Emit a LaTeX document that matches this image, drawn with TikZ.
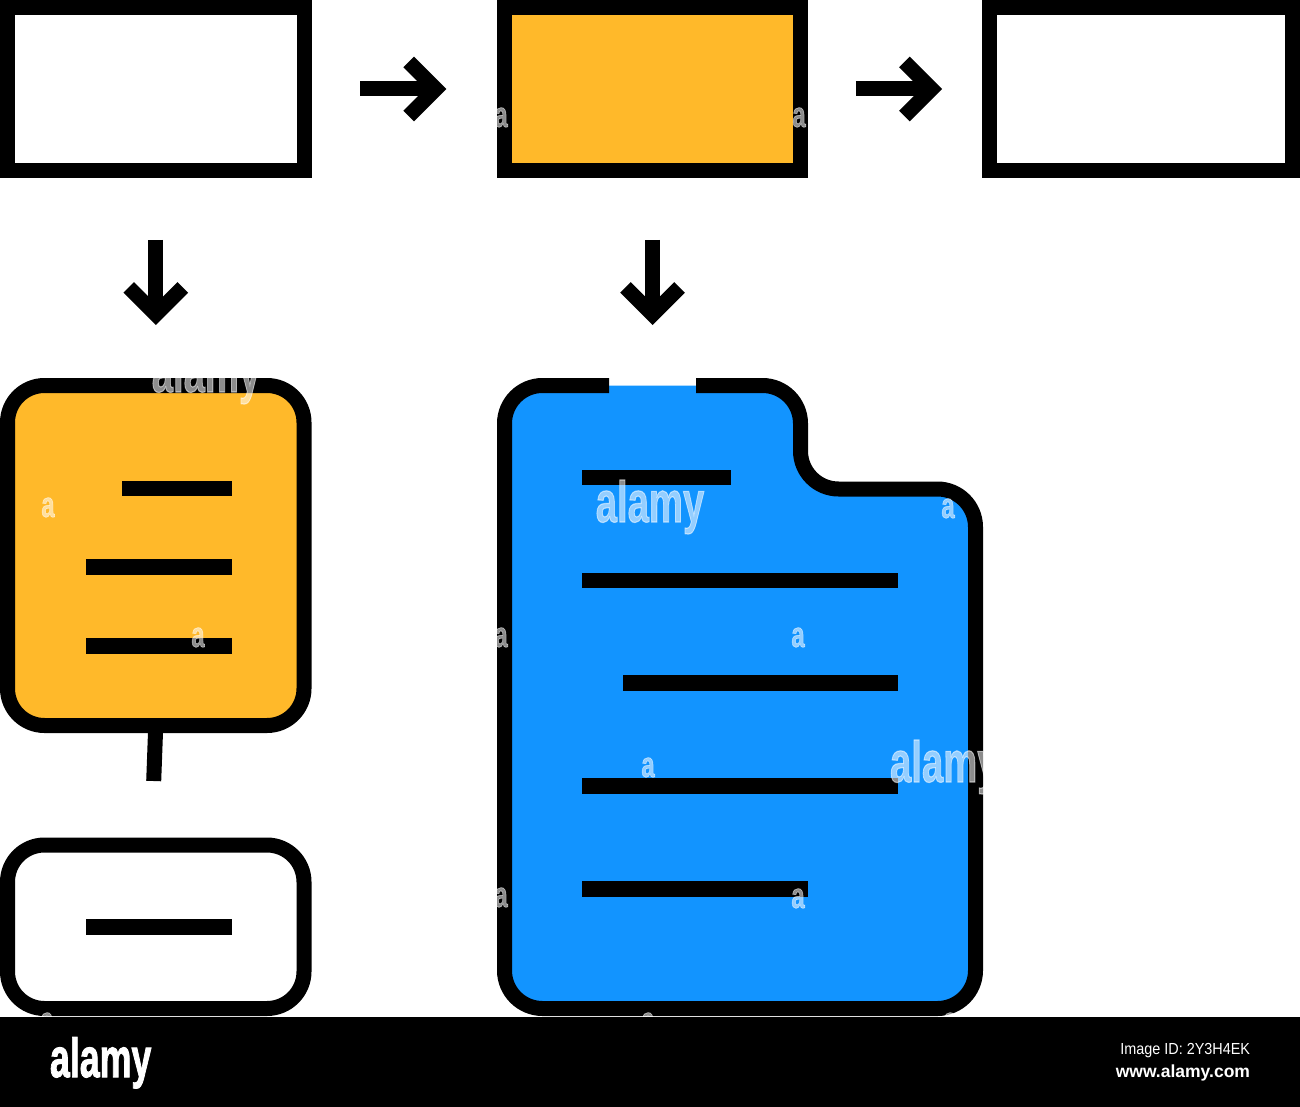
\documentclass[tikz,border=0pt]{standalone}
\usepackage{fontspec}
\setmainfont{Liberation Sans}
\newfontfamily\heavyfont[BoldFeatures={FakeBold=2}]{Liberation Sans}
\usetikzlibrary{arrows.meta}

\definecolor{panelorange}{HTML}{FFB92A}
\definecolor{panelblue}{HTML}{1294FF}

\tikzset{
	every picture/.style={line width=15pt},
	stepbox/.style={draw,line width=15pt,inner sep=0pt,outer sep=0pt,minimum width=296.5pt,minimum height=163pt},
	roundbox/.style={stepbox,rounded corners=37pt},
	textbar/.style={line width=15.5pt},
	flowarrow/.style={line width=15pt,-{Straight Barb[length=27pt,width=54pt,line width=15pt]}},
	stamp/.style={text=white,opacity=0.55,inner sep=0pt,outer sep=0pt,anchor=base},
	stampsmall/.style={stamp,font=\heavyfont\bfseries\fontsize{36}{36}\selectfont},
	stampbig/.style={stamp,font=\heavyfont\bfseries\fontsize{58}{58}\selectfont},
	footertext/.style={anchor=base east,inner sep=0pt,outer sep=0pt,text=white}}

\newcommand{\narrow}[1]{\scalebox{0.66}[1]{#1}}

\begin{document}
\begin{tikzpicture}[x=1pt,y=1pt,yscale=-1,xscale=1]
	\useasboundingbox (0,0) rectangle (1300,1107);
	\fill[white] (0,0) rectangle (1300,1107);

	%Shape: Rectangle [top row]
	\draw (155.75,89) node (boxleft) [stepbox] {};
	\draw (652.5,89) node (boxmid) [stepbox,fill=panelorange] {};
	\draw (1141,89) node (boxright) [stepbox,minimum width=303pt] {};

	%Shape: Rounded Rect [left column]
	\draw (155.75,555.5) node (notepanel) [roundbox,fill=panelorange,minimum height=340pt] {};
	\draw (155.75,926.75) node (keypanel) [roundbox,minimum height=163.5pt] {};

	%Shape: Polygon [folder sheet]
	\draw [fill=panelblue,rounded corners=38pt] (609,385.5) -- (504.5,385.5) -- (504.5,1008.5) -- (975.5,1008.5) -- (975.5,489) -- (800.5,489) -- (800.5,385.5) -- (696,385.5);
	\coordinate (sheettop) at (652.5,385.5);
	\coordinate (stubend) at (153.7,781);

	%Straight Lines [connectors]
	\draw [flowarrow,shorten <=56pt,shorten >=58pt] (boxleft.east) -- (boxmid.west);
	\draw [flowarrow,shorten <=55pt,shorten >=47.5pt] (boxmid.east) -- (boxright.west);
	\draw [flowarrow,shorten <=69.5pt,shorten >=60.5pt] (boxleft.south) -- (notepanel.north);
	\draw [flowarrow,shorten <=69.5pt,shorten >=60.5pt] (boxmid.south) -- (sheettop);
	\draw (notepanel.south) -- (stubend);

	%Straight Lines [text bars]
	\draw [textbar] (122,488.5) -- (232,488.5);
	\draw [textbar] (86,567) -- (232,567);
	\draw [textbar] (86,646) -- (232,646);
	\draw [textbar] (86,927) -- (232,927);
	\draw [textbar] (582,477.5) -- (731,477.5);
	\draw [textbar] (582,580.5) -- (898,580.5);
	\draw [textbar] (623,683) -- (898,683);
	\draw [textbar] (582,786) -- (898,786);
	\draw [textbar] (582,889) -- (808,889);

	% Text Node
	\draw (650,522) node (stampsheet) [stampbig] {\narrow{alamy}};
	% Text Node
	\draw (890,782) node (stampedge) [stampbig,anchor=base west] {\narrow{alamy}};
	% Text Node
	\draw (206,392) node (stamppanel) [stampbig] {\narrow{alamy}};
	% Text Node
	\draw (48,517) node (stampa) [stampsmall] {\narrow{a}};
	% Text Node
	\draw (198,647) node (stampb) [stampsmall] {\narrow{a}};
	% Text Node
	\draw (501,127) node (stampc) [stampsmall] {\narrow{a}};
	% Text Node
	\draw (799,127) node (stampd) [stampsmall] {\narrow{a}};
	% Text Node
	\draw (948,518) node (stampe) [stampsmall] {\narrow{a}};
	% Text Node
	\draw (798,647) node (stampf) [stampsmall] {\narrow{a}};
	% Text Node
	\draw (501,647) node (stampg) [stampsmall] {\narrow{a}};
	% Text Node
	\draw (648,777) node (stamph) [stampsmall] {\narrow{a}};
	% Text Node
	\draw (798,908) node (stampi) [stampsmall] {\narrow{a}};
	% Text Node
	\draw (501,907) node (stampj) [stampsmall] {\narrow{a}};
	% Text Node
	\draw (47,1032) node (stampk) [stampsmall] {\narrow{a}};
	% Text Node
	\draw (648,1032) node (stampl) [stampsmall] {\narrow{a}};
	% Text Node
	\draw (950,1032) node (stampm) [stampsmall] {\narrow{a}};

	%Shape: Rectangle [footer band]
	\fill [black] (0,1017) rectangle (1300,1107);

	% Text Node
	\draw (50,1077) node (footerlogo) [footertext,anchor=base west,font=\heavyfont\bfseries\fontsize{55}{55}\selectfont] {\scalebox{0.65}[1]{alamy}};
	% Text Node
	\draw (1250,1054) node (footerid) [footertext,font=\fontsize{16}{16}\selectfont] {\scalebox{0.9}[1]{Image ID: 2Y3H4EK}};
	% Text Node
	\draw (1250,1077) node (footerurl) [footertext,font=\bfseries\fontsize{17.5}{17.5}\selectfont] {www.alamy.com};

\end{tikzpicture}
\end{document}
